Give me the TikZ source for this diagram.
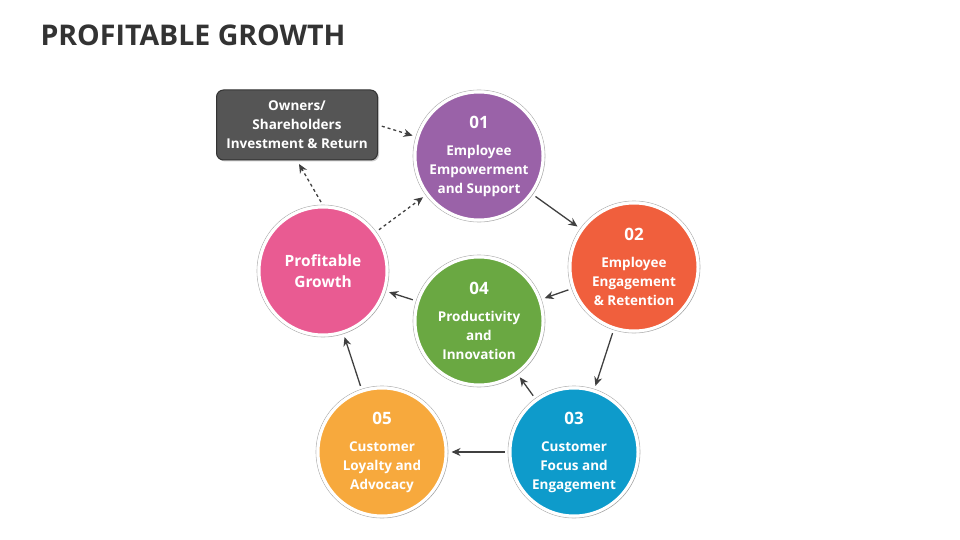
\documentclass[tikz,border=0pt]{standalone}
\usepackage{fontspec}
\setmainfont{Open Sans}
\usetikzlibrary{arrows.meta,shadows}
\definecolor{cpur}{HTML}{9A62A8}
\definecolor{cred}{HTML}{F05F3D}
\definecolor{cgrn}{HTML}{6AA842}
\definecolor{cpink}{HTML}{E95B92}
\definecolor{corg}{HTML}{F7A93D}
\definecolor{cblu}{HTML}{0E9BCB}
\definecolor{cbox}{HTML}{555555}
\begin{document}
\begin{tikzpicture}[x=1pt,y=-1pt,
 circ/.style={circle,draw=white,line width=3pt,minimum size=128pt,inner sep=0pt,text=white,align=center,
  font=\fontsize{13.5}{19}\selectfont\bfseries, drop shadow={shadow xshift=1.5pt,shadow yshift=-1.5pt,opacity=0.4},
  append after command={\pgfextra{\draw[black!30,line width=0.6pt] (\tikzlastnode.center) circle (66pt);}}},
 arr/.style={-{Stealth[length=9pt,width=8pt]},line width=1.3pt,draw=black!75,shorten <=4pt,shorten >=4pt},
 darr/.style={arr,dashed}]
\useasboundingbox (0,0) rectangle (960,540);
\node[anchor=west,font=\fontsize{28.5}{32}\selectfont\bfseries,text=black!80] (title) at (37,35) {PROFITABLE GROWTH};
\node[circ,fill=cpur] (c1) at (479,156) {\fontsize{17}{20}\selectfont 01\\[8pt]Employee\\Empowerment\\and Support};
\node[circ,fill=cred] (c2) at (634,267) {\fontsize{17}{20}\selectfont 02\\[8pt]Employee\\Engagement\\\& Retention};
\node[circ,fill=cgrn] (c4) at (479,321) {\fontsize{17}{20}\selectfont 04\\[8pt]Productivity\\and\\Innovation};
\node[circ,fill=cpink,font=\fontsize{15.5}{21}\selectfont\bfseries] (pg) at (323,271) {Profitable\\Growth};
\node[circ,fill=corg] (c5) at (382,452) {\fontsize{17}{20}\selectfont 05\\[8pt]Customer\\Loyalty and\\Advocacy};
\node[circ,fill=cblu] (c3) at (574,452) {\fontsize{17}{20}\selectfont 03\\[8pt]Customer\\Focus and\\Engagement};
\node[rounded corners=7pt,fill=cbox,draw=black!80,line width=1pt,minimum width=161pt,minimum height=70pt,text=white,align=center,
 font=\fontsize{13.5}{19}\selectfont\bfseries,drop shadow={shadow xshift=1.5pt,shadow yshift=-1.5pt,opacity=0.4}] (box) at (297,125) {Owners/\\Shareholders\\Investment \& Return};
\draw[arr] (c1) -- (c2);
\draw[arr] (c2) -- (c4);
\draw[arr] (c2) -- (c3);
\draw[arr] (c3) -- (c5);
\draw[arr] (c3) -- (c4);
\draw[arr] (c4) -- (pg);
\draw[arr] (c5) -- (pg);
\draw[darr] (pg) -- (c1);
\draw[darr] (pg.north) -- (box.south);
\draw[darr] (box.east) -- (c1);
\end{tikzpicture}
\end{document}
